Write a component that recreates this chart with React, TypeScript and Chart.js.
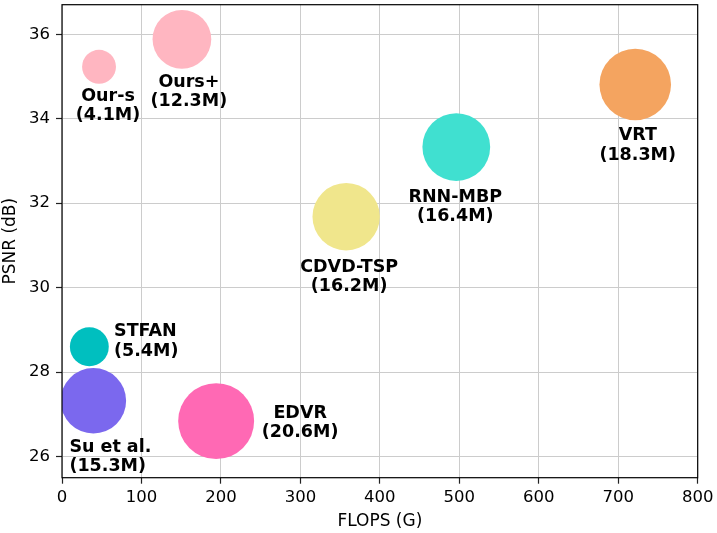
import React, { useEffect, useRef } from 'react';
import { Chart, registerables } from 'chart.js';

Chart.register(...registerables);

// ---- data ----
const names = ['Our-s', 'Ours+', 'STFAN', 'Su et al.', 'EDVR', 'CDVD-TSP', 'RNN-MBP', 'VRT'];
const flops = [46.6, 150.9, 34.4, 39.5, 194, 357.6, 496.2, 721.4];
const psnr = [35.23, 35.88, 28.6, 27.32, 26.84, 31.68, 33.33, 34.81];
const paramsM = [4.1, 12.3, 5.4, 15.3, 20.6, 16.2, 16.4, 18.3];
const colors = ['#FFB6C1', '#FFB6C1', '#00BFBF', '#7B68EE', '#FF69B4', '#F0E68C', '#40E0D0', '#F4A460'];
const xTicks = [0, 100, 200, 300, 400, 500, 600, 700, 800];
const yTicks = [26, 28, 30, 32, 34, 36];

// label placement relative to bubble centre (pixels)
const labelPlacement = [
  { dx: 9, dy: 29.5, align: 'center' },
  { dx: 7, dy: 42.7, align: 'center' },
  { dx: 24.7, dy: -15, align: 'left' },
  { dx: -24, dy: 46.5, align: 'left' },
  { dx: 84, dy: -8, align: 'center' },
  { dx: 3, dy: 50.6, align: 'center' },
  { dx: -1, dy: 50, align: 'center' },
  { dx: 2.5, dy: 51, align: 'center' },
];
const LINE_GAP = 19.5;
const FONT = '"DejaVu Sans", sans-serif';

export default function App() {
  const ref = useRef<HTMLCanvasElement>(null);

  useEffect(() => {
    if (!ref.current) return;

    const labelPlugin = {
      id: 'bubbleLabels',
      afterDatasetsDraw(chart: any) {
        const { ctx, scales } = chart;
        const x = scales.x;
        const y = scales.y;
        ctx.save();
        ctx.font = `bold 17.5px ${FONT}`;
        ctx.fillStyle = '#000';
        ctx.textBaseline = 'middle';
        names.forEach((n, i) => {
          const px = x.getPixelForValue(flops[i]);
          const py = y.getPixelForValue(psnr[i]);
          const p = labelPlacement[i];
          ctx.textAlign = p.align;
          ctx.fillText(n, px + p.dx, py + p.dy);
          ctx.fillText(`(${paramsM[i]}M)`, px + p.dx, py + p.dy + LINE_GAP);
        });
        const a = chart.chartArea;
        ctx.strokeStyle = '#000';
        ctx.lineWidth = 1.2;
        ctx.strokeRect(a.left, a.top, a.right - a.left, a.bottom - a.top);
        ctx.restore();
      },
    };

    const chart = new Chart(ref.current, {
      type: 'bubble',
      data: {
        datasets: [
          {
            data: flops.map((fx, i) => ({ x: fx, y: psnr[i], r: Math.sqrt(paramsM[i] * 70) })),
            backgroundColor: colors,
            borderWidth: 0,
            hoverBorderWidth: 0,
            hoverRadius: 0,
            clip: 0,
          } as any,
        ],
      },
      options: {
        animation: false,
        responsive: false,
        events: [],
        layout: { autoPadding: false, padding: { top: 4.7, right: 19.3, left: 0, bottom: 0 } },
        plugins: { legend: { display: false }, tooltip: { enabled: false } },
        scales: {
          x: {
            type: 'linear',
            min: 0,
            max: 800,
            afterBuildTicks: (s: any) => {
              s.ticks = xTicks.map((v) => ({ value: v }));
            },
            afterFit: (s: any) => {
              s.height = 55.3;
              s.paddingLeft = 0;
              s.paddingRight = 0;
            },
            grid: { color: '#cccccc', lineWidth: 1, tickLength: 6, tickColor: '#222', tickWidth: 1.2 },
            border: { display: false },
            ticks: { color: '#000', font: { family: FONT, size: 16.5 }, padding: 4, maxRotation: 0 },
            title: {
              display: true,
              text: 'FLOPS (G)',
              color: '#000',
              font: { family: FONT, size: 17 },
              padding: { top: 0, bottom: 1 },
            },
          },
          y: {
            type: 'linear',
            min: 25.5,
            max: 36.7,
            afterBuildTicks: (s: any) => {
              s.ticks = yTicks.map((v) => ({ value: v }));
            },
            afterFit: (s: any) => {
              s.width = 62;
              s.paddingTop = 0;
              s.paddingBottom = 0;
            },
            grid: { color: '#cccccc', lineWidth: 1, tickLength: 6, tickColor: '#222', tickWidth: 1.2 },
            border: { display: false },
            ticks: { color: '#000', font: { family: FONT, size: 16.5 }, padding: 6 },
            title: {
              display: true,
              text: 'PSNR (dB)',
              color: '#000',
              font: { family: FONT, size: 17 },
              padding: { top: 0.5, bottom: 0 },
            },
          },
        },
      },
      plugins: [labelPlugin],
    } as any);

    return () => chart.destroy();
  }, []);

  return (
    <div style={{ position: 'absolute', left: 0, top: 0, width: 717, height: 533, background: '#fff' }}>
      <canvas ref={ref} width={717} height={533} style={{ display: 'block' }} />
    </div>
  );
}
